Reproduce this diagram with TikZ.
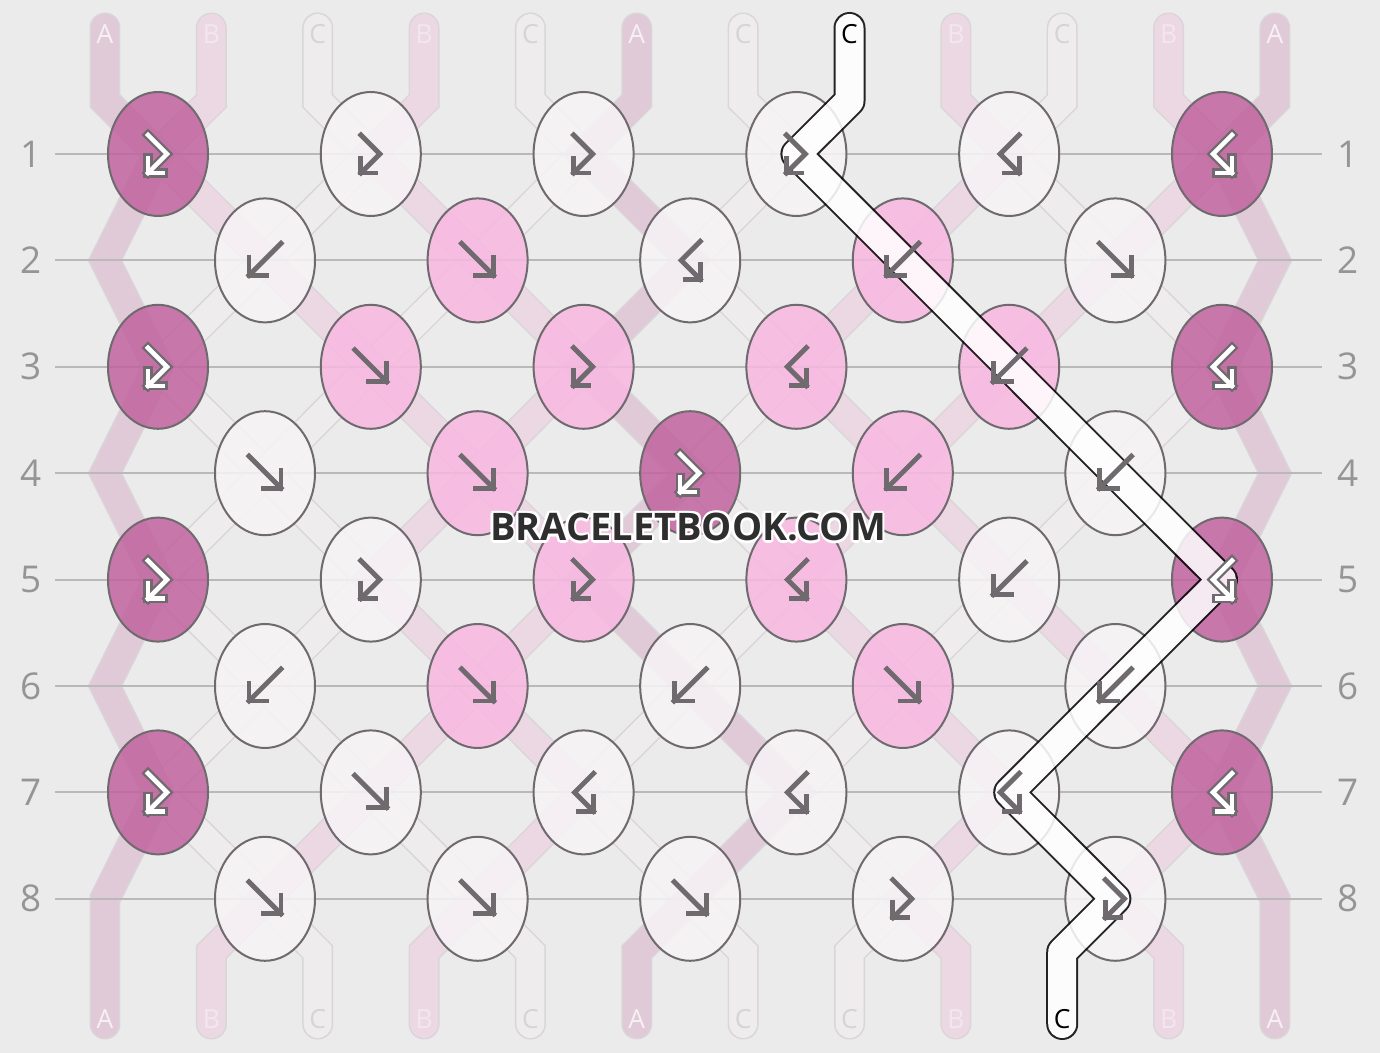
\documentclass[tikz,border=0pt]{standalone}
\usepackage{fontspec}
\setmainfont{Open Sans}
\usetikzlibrary{shapes.geometric,calc}
\pgfdeclarelayer{bgl}
\pgfdeclarelayer{thr}
\pgfdeclarelayer{hil}
\pgfdeclarelayer{arl}
\pgfsetlayers{bgl,thr,main,hil,arl}
\definecolor{bgc}{HTML}{EBEBEB}
\definecolor{knA}{HTML}{C1639E}
\definecolor{knB}{HTML}{F8B8E1}
\definecolor{knC}{HTML}{F7F4F6}
\definecolor{thA}{HTML}{E1CAD8}
\definecolor{thB}{HTML}{EBD8E3}
\definecolor{thC}{HTML}{EEECED}
\definecolor{thO}{HTML}{DAD5D8}
\definecolor{knO}{HTML}{6E6A6E}
\definecolor{arC}{HTML}{6E6A6E}
\definecolor{rowL}{HTML}{B9B9B9}
\definecolor{numC}{HTML}{959595}
\definecolor{labA}{HTML}{F6F0F4}
\definecolor{labB}{HTML}{F3E6EE}
\definecolor{labC}{HTML}{D5D5D5}
\definecolor{wmC}{HTML}{2E2E2E}
\tikzset{
  knot/.style={ellipse, draw=knO, line width=0.2mm, minimum width=10mm, minimum height=12.4mm, inner sep=0pt, fill opacity=0.85},
  band/.style={draw=thO, line width=0.15mm, double distance=2.8mm, line cap=round, line join=miter},
  bandA/.style={band, double=thA},
  bandB/.style={band, double=thB},
  bandC/.style={band, double=thC},
  hlband/.style={draw=black, line width=0.2mm, double=white, double distance=2.8mm, line cap=round, line join=round},
  rowline/.style={draw=rowL, line width=0.2mm},
  rownum/.style={text=numC, font=\fontsize{10.5}{12}\selectfont, inner sep=0pt},
  plabel/.style={font=\fontsize{7.5}{9}\selectfont, inner sep=0pt},
  glg/.style={draw=arC, line width=1.4pt, line cap=rect, line join=miter},
  glo/.style={draw=arC, line width=2.6pt, line cap=rect, line join=miter},
  glw/.style={draw=white, line width=1.3pt, line cap=rect, line join=miter},
  wm/.style={font=\fontsize{10.8}{12}\selectfont\bfseries, inner sep=0pt},
}
\newcommand\glyphF[2]{\begin{scope}[shift={(#2.center)}]\draw[#1] (-16,-17) -- (16,15);\draw[#1] (-2,15) -- (16,15) -- (16,-3);\end{scope}}
\newcommand\glyphB[2]{\begin{scope}[shift={(#2.center)}]\draw[#1] (16,-17) -- (-16,15);\draw[#1] (2,15) -- (-16,15) -- (-16,-3);\end{scope}}
\newcommand\glyphFB[2]{\begin{scope}[shift={(#2.center)}]\draw[#1] (-10,-19) -- (9,0) -- (-10,19);\draw[#1] (5,19) -- (-10,19) -- (-10,4);\end{scope}}
\newcommand\glyphBF[2]{\begin{scope}[shift={(#2.center)}]\draw[#1] (10,-19) -- (-9,0) -- (10,19);\draw[#1] (-5,19) -- (10,19) -- (10,4);\end{scope}}
\newcommand\kglyph[3]{\if A#2\csname glyph#1\endcsname{glo}{#3}\csname glyph#1\endcsname{glw}{#3}\else\csname glyph#1\endcsname{glg}{#3}\fi}
% thread: style, number of points, list of points
\newcommand\thr[3]{%
  \foreach \q [count=\ii, remember=\q as \pq (initially cL)] in {#3} {%
    \pgfmathtruncatemacro\nm{#2-1}%
    \ifnum\ii=1 \coordinate (q1) at (\q);\fi
    \ifnum\ii=2 \coordinate (q2) at (\q);\fi
    \ifnum\ii=3
      \begin{scope}
        \coordinate (pb) at (\q);
        \clip ($(q1 -| cL)+(0,-200)$) rectangle ($(pb -| cR)+(0,0.6)$);
        \draw[#1] (q1) -- (q2) -- ($(pb)!-0.5!(q2)$);
      \end{scope}
    \fi
    \ifnum\ii>3 \ifnum\ii<\nm
      \begin{scope}
        \coordinate (pa) at (\pq);
        \coordinate (pb) at (\q);
        \clip ($(pa -| cL)+(0,-0.6)$) rectangle ($(pb -| cR)+(0,0.6)$);
        \draw[#1] ($(pa)!-0.5!(pb)$) -- ($(pb)!-0.5!(pa)$);
      \end{scope}
    \fi\fi
    \ifnum\ii=\nm \coordinate (qa) at (\pq); \coordinate (qb) at (\q);\fi
    \ifnum\ii=#2
      \begin{scope}
        \coordinate (pb) at (\q);
        \clip ($(qa -| cL)+(0,-0.6)$) rectangle ($(pb -| cR)+(0,200)$);
        \draw[#1] ($(qa)!-0.5!(qb)$) -- (qb) -- (pb);
      \end{scope}
    \fi
  }%
}
\begin{document}
\begin{tikzpicture}[x=0.1mm,y=-0.1mm]
\useasboundingbox (0,0) rectangle (1380,1053);
\begin{pgfonlayer}{bgl}
\fill[bgc] (0,0) rectangle (1380,1053);
\end{pgfonlayer}
\coordinate (cL) at (0,0);
\coordinate (cR) at (1380,0);
\foreach \p in {0,...,11} {
  \pgfmathsetmacro\px{105+106.36*\p}
  \coordinate (ta\p) at (\px,28);
  \coordinate (tb\p) at (\px,101);
  \coordinate (bb\p) at (\px,952);
  \coordinate (be\p) at (\px,1024);
}
\foreach \rr in {2,4,6,8} {
  \pgfmathsetmacro\ry{154+106.4*(\rr-1)}
  \coordinate (eL\rr) at (105,\ry);
  \coordinate (eR\rr) at (1275,\ry);
}
% knots
\foreach \rr/\lst in {
 1/{A/FB,C/FB,C/FB,C/FB,C/BF,A/BF},
 2/{C/B,B/F,C/BF,B/B,C/F},
 3/{A/FB,B/F,B/FB,B/BF,B/B,A/BF},
 4/{C/F,B/F,A/FB,B/B,C/B},
 5/{A/FB,C/FB,B/FB,B/BF,C/B,A/BF},
 6/{C/B,B/F,C/B,B/F,C/B},
 7/{A/FB,C/F,C/BF,C/BF,C/BF,A/BF},
 8/{C/F,C/F,C/F,C/FB,C/FB}} {
  \foreach \kc/\kt [count=\kk from 0] in \lst {
    \pgfmathsetmacro\kx{isodd(\rr) ? 158+212.8*\kk : 265+212.6*\kk}
    \pgfmathsetmacro\ky{154+106.4*(\rr-1)}
    \node[knot, fill=kn\kc] (k\rr-\kk) at (\kx,\ky) {};
    \begin{pgfonlayer}{arl}
      \kglyph{\kt}{\kc}{k\rr-\kk}
    \end{pgfonlayer}
  }
}
% threads
\begin{pgfonlayer}{thr}
\thr{bandC}{12}{ta2,tb2,k1-1.center,k2-0.center,k3-0.center,k4-0.center,k5-1.center,k6-0.center,k7-0.center,k8-0.center,bb2,be2}
\thr{bandC}{12}{ta4,tb4,k1-2.center,k2-1.center,k3-1.center,k4-0.center,k5-0.center,k6-0.center,k7-1.center,k8-1.center,bb4,be4}
\thr{bandC}{12}{ta6,tb6,k1-3.center,k2-2.center,k3-3.center,k4-2.center,k5-3.center,k6-2.center,k7-2.center,k8-2.center,bb6,be6}
\thr{bandC}{12}{ta9,tb9,k1-4.center,k2-4.center,k3-5.center,k4-4.center,k5-4.center,k6-3.center,k7-3.center,k8-3.center,bb7,be7}
\thr{bandB}{12}{ta1,tb1,k1-0.center,k2-0.center,k3-1.center,k4-1.center,k5-2.center,k6-1.center,k7-1.center,k8-0.center,bb1,be1}
\thr{bandB}{12}{ta3,tb3,k1-1.center,k2-1.center,k3-2.center,k4-1.center,k5-1.center,k6-1.center,k7-2.center,k8-1.center,bb3,be3}
\thr{bandB}{12}{ta8,tb8,k1-4.center,k2-3.center,k3-3.center,k4-3.center,k5-4.center,k6-4.center,k7-5.center,k8-4.center,bb10,be10}
\thr{bandB}{12}{ta10,tb10,k1-5.center,k2-4.center,k3-4.center,k4-3.center,k5-3.center,k6-3.center,k7-4.center,k8-3.center,bb8,be8}
\thr{bandA}{11}{ta0,tb0,k1-0.center,eL2,k3-0.center,eL4,k5-0.center,eL6,k7-0.center,eL8,be0}
\thr{bandA}{11}{ta11,tb11,k1-5.center,eR2,k3-5.center,eR4,k5-5.center,eR6,k7-5.center,eR8,be11}
\thr{bandA}{12}{ta5,tb5,k1-2.center,k2-2.center,k3-2.center,k4-2.center,k5-2.center,k6-2.center,k7-3.center,k8-2.center,bb5,be5}
% row lines and numbers
\foreach \rr in {1,...,8} {
  \pgfmathsetmacro\ry{154+106.4*(\rr-1)}
  \node[rownum] (nl\rr) at (31,\ry) {\rr};
  \node[rownum] (nr\rr) at (1348,\ry) {\rr};
  \draw[rowline] (nl\rr.center) ++(24,0) coordinate (rl\rr) -- (nr\rr.center -| 1322,0) coordinate (rr\rr);
}
\end{pgfonlayer}
% highlighted string
\begin{pgfonlayer}{hil}
\begin{scope}[transparency group, opacity=0.85]
\draw[hlband] (ta7) -- (tb7) -- (k1-3.center) -- (k2-3.center) -- (k3-4.center) -- (k4-4.center) -- (k5-5.center) -- (k6-4.center) -- (k7-4.center) -- (k8-4.center) -- (bb9) -- (be9);
\end{scope}
\end{pgfonlayer}
% string labels
\begin{pgfonlayer}{arl}
\foreach \L [count=\p from 0] in {A,B,C,B,C,A,C,C,B,C,B,A} {
  \pgfmathsetmacro\px{105+106.36*\p}
  \ifnum\p=7 \def\tc{black}\else\def\tc{lab\L}\fi
  \node[plabel, text=\tc] (lt\p) at (\px,34) {\L};
  \ifnum\p=9 \def\bc{black}\else\def\bc{lab\L}\fi
  \node[plabel, text=\bc] (lb\p) at (\px,1019) {\L};
}
\foreach \dx/\dy [count=\hh] in {-2.5/0,2.5/0,0/-2.5,0/2.5,-1.8/-1.8,1.8/1.8,-1.8/1.8,1.8/-1.8} {
  \node[wm, text=white] (wmh\hh) at (688+\dx,527+\dy) {BRACELETBOOK.COM};
}
\node[wm, text=wmC] (wm) at (688,527) {BRACELETBOOK.COM};
\end{pgfonlayer}
\end{tikzpicture}
\end{document}
